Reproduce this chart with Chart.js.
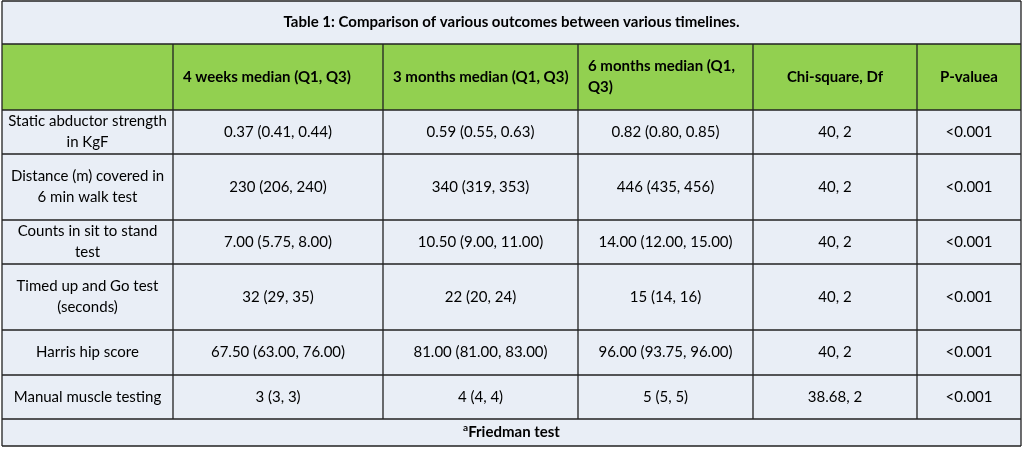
<!DOCTYPE html>
<html><head><meta charset="utf-8">
<script src="https://cdn.jsdelivr.net/npm/chart.js@4"></script>
<style>html,body{margin:0;padding:0;background:#fff}#w{width:1024px;height:455px}</style>
</head><body><div id="w"><canvas id="c"></canvas></div>
<script>
const title = "Table 1: Comparison of various outcomes between various timelines.";
const headers = ["", "4 weeks median (Q1, Q3)", "3 months median (Q1, Q3)", "6 months median (Q1, Q3)", "Chi-square, Df", "P-valuea"];
const outcomes = ["Static abductor strength in KgF", "Distance (m) covered in 6 min walk test", "Counts in sit to stand test", "Timed up and Go test (seconds)", "Harris hip score", "Manual muscle testing"];
const weeks4 = ["0.37 (0.41, 0.44)", "230 (206, 240)", "7.00 (5.75, 8.00)", "32 (29, 35)", "67.50 (63.00, 76.00)", "3 (3, 3)"];
const months3 = ["0.59 (0.55, 0.63)", "340 (319, 353)", "10.50 (9.00, 11.00)", "22 (20, 24)", "81.00 (81.00, 83.00)", "4 (4, 4)"];
const months6 = ["0.82 (0.80, 0.85)", "446 (435, 456)", "14.00 (12.00, 15.00)", "15 (14, 16)", "96.00 (93.75, 96.00)", "5 (5, 5)"];
const chiSquare = ["40, 2", "40, 2", "40, 2", "40, 2", "40, 2", "38.68, 2"];
const pValues = ["<0.001", "<0.001", "<0.001", "<0.001", "<0.001", "<0.001"];
const footnote = "Friedman test";

const colEdges = [2, 173, 383, 578, 753, 917, 1021];
const rowEdges = [1, 44, 110, 154, 220, 264, 330, 375, 419, 446];
const FONT = "Lato, 'Open Sans', sans-serif";

function wrap(ctx, text, maxW) {
  const words = text.split(' '); const lines = []; let cur = '';
  for (const w of words) {
    const t = cur ? cur + ' ' + w : w;
    if (ctx.measureText(t).width > maxW && cur) { lines.push(cur); cur = w; } else cur = t;
  }
  if (cur) lines.push(cur); return lines;
}
function cellText(ctx, text, x0, x1, y0, y1, bold, align) {
  ctx.font = (bold ? 'bold ' : '') + '15px ' + FONT;
  ctx.fillStyle = '#000'; ctx.textBaseline = 'middle';
  const lines = wrap(ctx, text, x1 - x0 - 6);
  const lh = 21, cy = (y0 + y1) / 2;
  lines.forEach((l, i) => {
    const y = cy + (i - (lines.length - 1) / 2) * lh;
    if (align === 'left') { ctx.textAlign = 'left'; ctx.fillText(l, x0 + 10, y); }
    else { ctx.textAlign = 'center'; ctx.fillText(l, (x0 + x1) / 2, y); }
  });
}

const tablePlugin = {
  id: 'table',
  afterDraw(chart) {
    const ctx = chart.ctx, xs = chart.scales.x, ys = chart.scales.y;
    const X = v => xs.getPixelForValue(v), Y = v => ys.getPixelForValue(v);
    ctx.save();
    const L = X(colEdges[0]), R = X(colEdges[6]);
    ctx.fillStyle = '#E9EEF6'; ctx.fillRect(L, Y(rowEdges[0]), R - L, Y(rowEdges[9]) - Y(rowEdges[0]));
    ctx.fillStyle = '#92D050'; ctx.fillRect(L, Y(rowEdges[1]), R - L, Y(rowEdges[2]) - Y(rowEdges[1]));
    ctx.strokeStyle = '#222'; ctx.lineWidth = 1.3;
    ctx.beginPath();
    rowEdges.forEach(r => { ctx.moveTo(L, Y(r)); ctx.lineTo(R, Y(r)); });
    ctx.moveTo(L, Y(rowEdges[0])); ctx.lineTo(L, Y(rowEdges[9]));
    ctx.moveTo(R, Y(rowEdges[0])); ctx.lineTo(R, Y(rowEdges[9]));
    for (let c = 1; c < 6; c++) { ctx.moveTo(X(colEdges[c]), Y(rowEdges[1])); ctx.lineTo(X(colEdges[c]), Y(rowEdges[8])); }
    ctx.stroke();
    cellText(ctx, title, L, R, Y(rowEdges[0]), Y(rowEdges[1]), true);
    headers.forEach((h, c) => {
      if (!h) return;
      const x0 = X(colEdges[c]), x1 = X(colEdges[c + 1]), y0 = Y(rowEdges[1]), y1 = Y(rowEdges[2]);
      ctx.font = 'bold 15px ' + FONT; ctx.fillStyle = '#000'; ctx.textBaseline = 'middle';
      if (c <= 3) {
        const lines = wrap(ctx, h, x1 - x0 - 14);
        lines.forEach((l, i) => { ctx.textAlign = 'left'; ctx.fillText(l, x0 + 10, (y0 + y1) / 2 + (i - (lines.length - 1) / 2) * 21); });
      } else if (c === 5) {
        ctx.textAlign = 'center'; ctx.fillText(h, (x0 + x1) / 2, (y0 + y1) / 2);
      } else cellText(ctx, h, x0, x1, y0, y1, true);
    });
    const cols = [outcomes, weeks4, months3, months6, chiSquare, pValues];
    for (let r = 0; r < outcomes.length; r++) {
      cols.forEach((arr, c) => cellText(ctx, arr[r], X(colEdges[c]), X(colEdges[c + 1]), Y(rowEdges[r + 2]), Y(rowEdges[r + 3]), false));
    }
    // footnote with superscript a
    const fy = (Y(rowEdges[8]) + Y(rowEdges[9])) / 2;
    ctx.font = 'bold 15px ' + FONT; const fw = ctx.measureText(footnote).width;
    ctx.font = 'bold 10px ' + FONT; const aw = ctx.measureText('a').width;
    const sx = (L + R) / 2 - (fw + aw) / 2;
    ctx.textAlign = 'left'; ctx.fillStyle = '#000';
    ctx.fillText('a', sx, fy - 5);
    ctx.font = 'bold 15px ' + FONT; ctx.fillText(footnote, sx + aw, fy);
    ctx.restore();
  }
};

new Chart(document.getElementById('c'), {
  type: 'scatter',
  data: { datasets: [{ data: [] }] },
  options: {
    responsive: true, maintainAspectRatio: false, animation: false,
    layout: { padding: 0 },
    plugins: { legend: { display: false }, tooltip: { enabled: false } },
    scales: {
      x: { type: 'linear', min: 0, max: 1024, display: false },
      y: { type: 'linear', min: 0, max: 455, reverse: true, display: false }
    }
  },
  plugins: [tablePlugin]
});
</script></body></html>
